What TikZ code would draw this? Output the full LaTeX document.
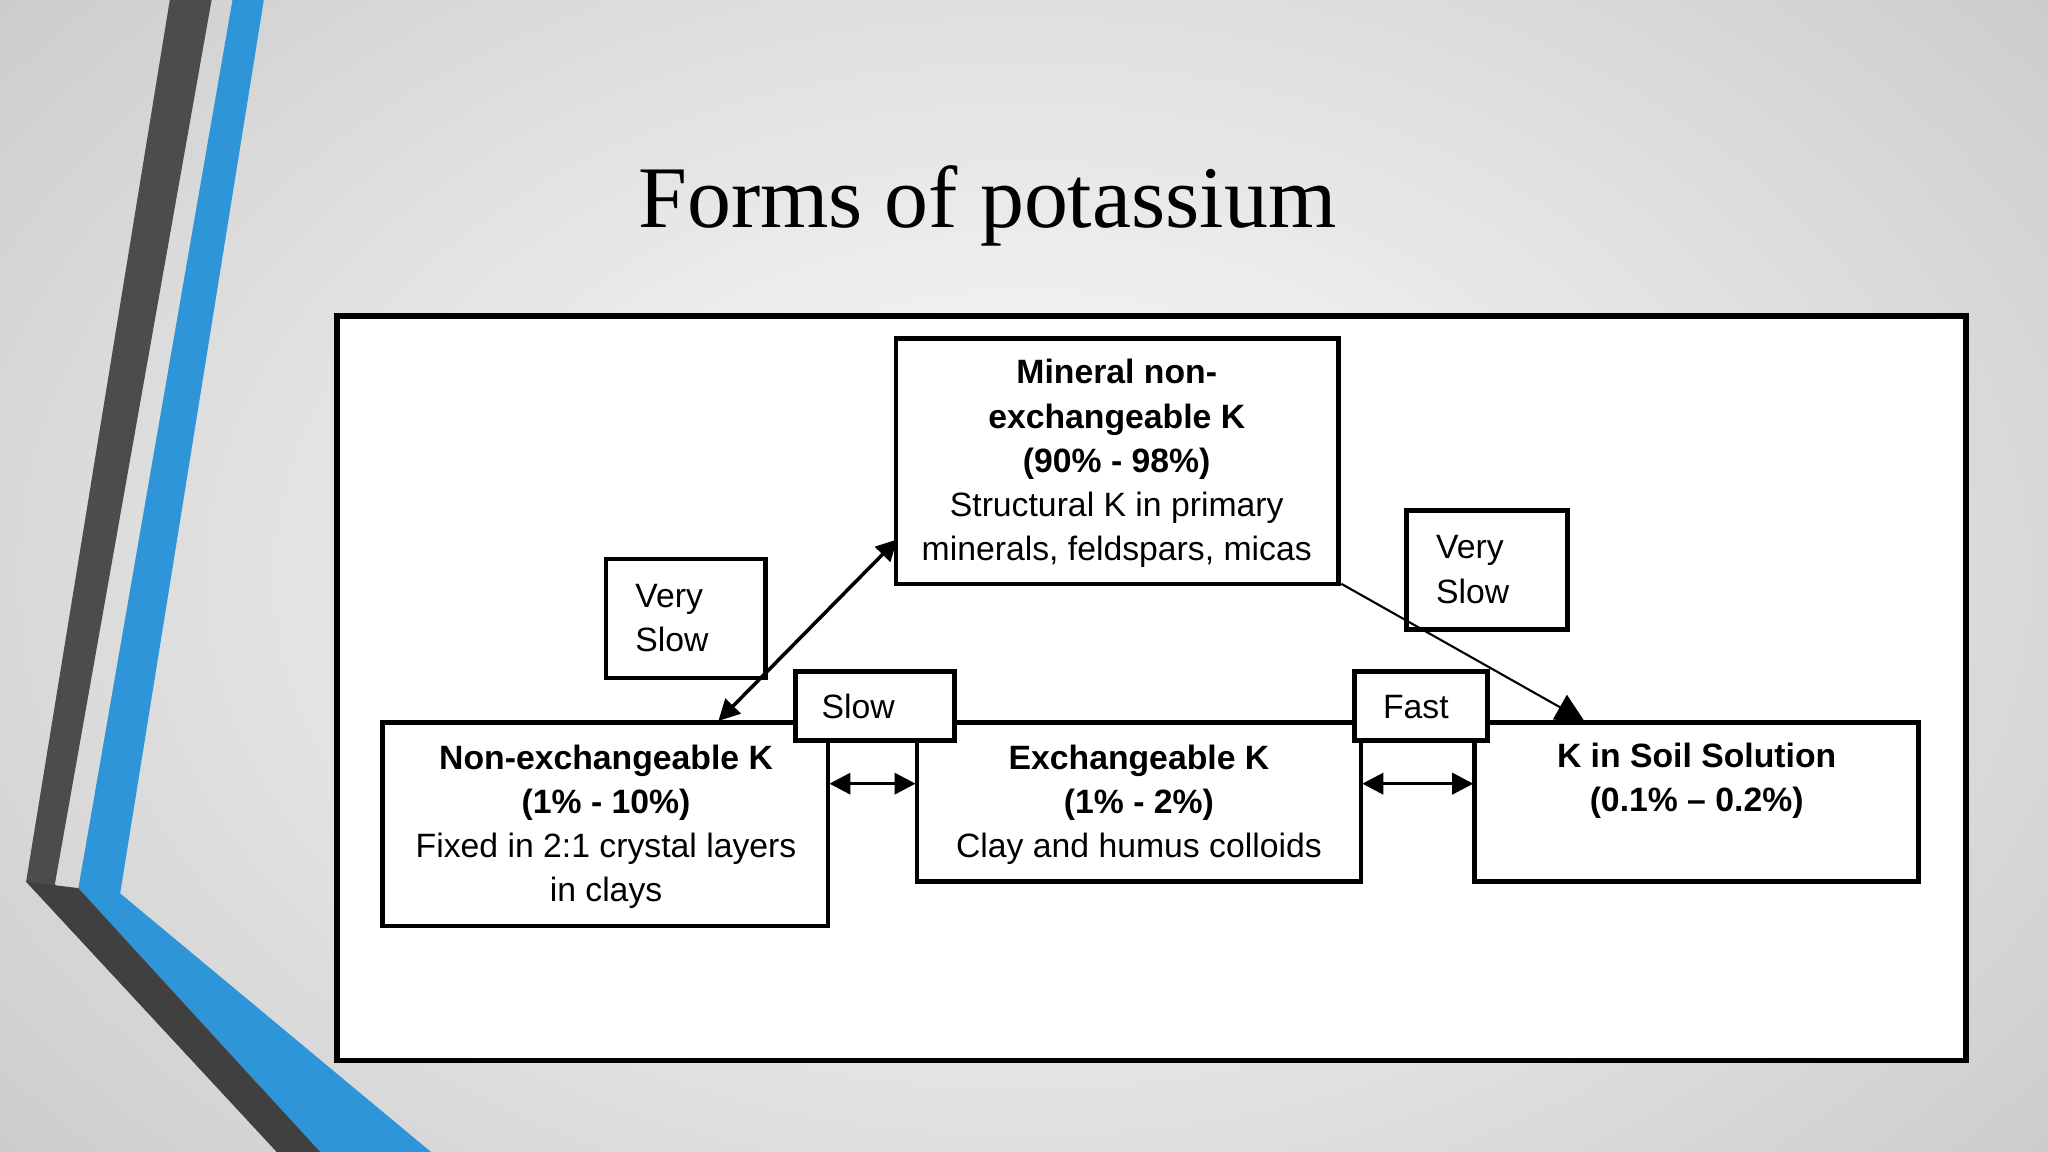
\documentclass[tikz,border=0pt]{standalone}
\usepackage{fontspec}
\setmainfont{Liberation Sans}
\newfontfamily\titlefont{Liberation Serif}
\usetikzlibrary{arrows.meta,fit}
\begin{document}
\begin{tikzpicture}[x=0.013061cm,y=-0.013061cm,
  box/.style={draw=black,line width=1.3pt,fill=white,inner sep=0pt},
  txt/.style={font=\fontsize{9.6}{12.6}\selectfont,align=center,inner sep=0pt},
  arr/.style={line width=1pt,{Triangle[length=6pt,width=6pt]}-{Triangle[length=6pt,width=6pt]}}]
\useasboundingbox (0,0) rectangle (1568,882);
\shade[inner color=white,outer color=black!30] (-300,-300) rectangle (1868,1182);
\fill[white,opacity=0.3] (0,0) rectangle (1568,882);
% left decoration
\fill[black!70] (130,0)--(162,0)--(42,677)--(250,882)--(212,882)--(20,675)--cycle;
\fill[cyan!70!blue!85] (178,0)--(202,0)--(92,684)--(330,882)--(245,882)--(60,680)--cycle;
\fill[black!75] (20,675)--(60,680)--(245,882)--(212,882)--cycle;
\node[font=\titlefont\fontsize{25}{28}\selectfont] (title) at (756,158) {Forms of potassium};
% corner coordinates
\path (258,242) coordinate (p1) (1505,812) coordinate (p2)
      (686,259) coordinate (m1) (1025,447) coordinate (m2)
      (464,428) coordinate (v1) (586,519) coordinate (v2)
      (1077,391) coordinate (w1) (1200,482) coordinate (w2)
      (293,553) coordinate (n1) (634,709) coordinate (n2)
      (702,553) coordinate (e1) (1042,675) coordinate (e2)
      (1129,553) coordinate (s1) (1469,675) coordinate (s2)
      (609,514) coordinate (l1) (731,567) coordinate (l2)
      (1037,514) coordinate (f1) (1139,567) coordinate (f2);
\node[box,line width=1.6pt,fit=(p1)(p2)] (panel) {};
\node[box,fit=(m1)(m2)] (min) {};
\node[txt] (mint) at (855,355) {\textbf{Mineral non-}\\\textbf{exchangeable K}\\\textbf{(90\% - 98\%)}\\Structural K in primary\\minerals, feldspars, micas};
\node[box,fit=(v1)(v2)] (vs1) {};
\node[txt,align=left,anchor=west] (vs1t) at (486,473) {Very\\Slow};
\node[box,fit=(w1)(w2)] (vs2) {};
\node[txt,align=left,anchor=west] (vs2t) at (1099,436) {Very\\Slow};
\node[box,fit=(n1)(n2)] (non) {};
\node[txt] (nont) at (464,633) {\textbf{Non-exchangeable K}\\\textbf{(1\% - 10\%)}\\Fixed in 2:1 crystal layers\\in clays};
\node[box,fit=(e1)(e2)] (ex) {};
\node[txt] (ext) at (872,616) {\textbf{Exchangeable K}\\\textbf{(1\% - 2\%)}\\Clay and humus colloids};
\node[box,fit=(s1)(s2)] (sol) {};
\node[txt] (solt) at (1299,598) {\textbf{K in Soil Solution}\\\textbf{(0.1\% -- 0.2\%)}};
\node[box,fit=(l1)(l2)] (slow) {};
\node[txt] (slowt) at (657,541) {Slow};
\node[box,fit=(f1)(f2)] (fast) {};
\node[txt] (fastt) at (1084,541) {Fast};
% connectors
\coordinate (a1) at (687,413); \coordinate (a2) at (550,552);
\draw[arr] (a2)--(a1);
\coordinate (b1) at (1027,447); \coordinate (b2) at (1213,552);
\draw[line width=0.6pt,-{Triangle[length=8pt,width=8pt]}] (b1)--(b2);
\coordinate (c1) at (635,600); \coordinate (c2) at (701,600);
\draw[arr] (c1)--(c2);
\coordinate (d1) at (1043,600); \coordinate (d2) at (1128,600);
\draw[arr] (d1)--(d2);
\end{tikzpicture}
\end{document}
